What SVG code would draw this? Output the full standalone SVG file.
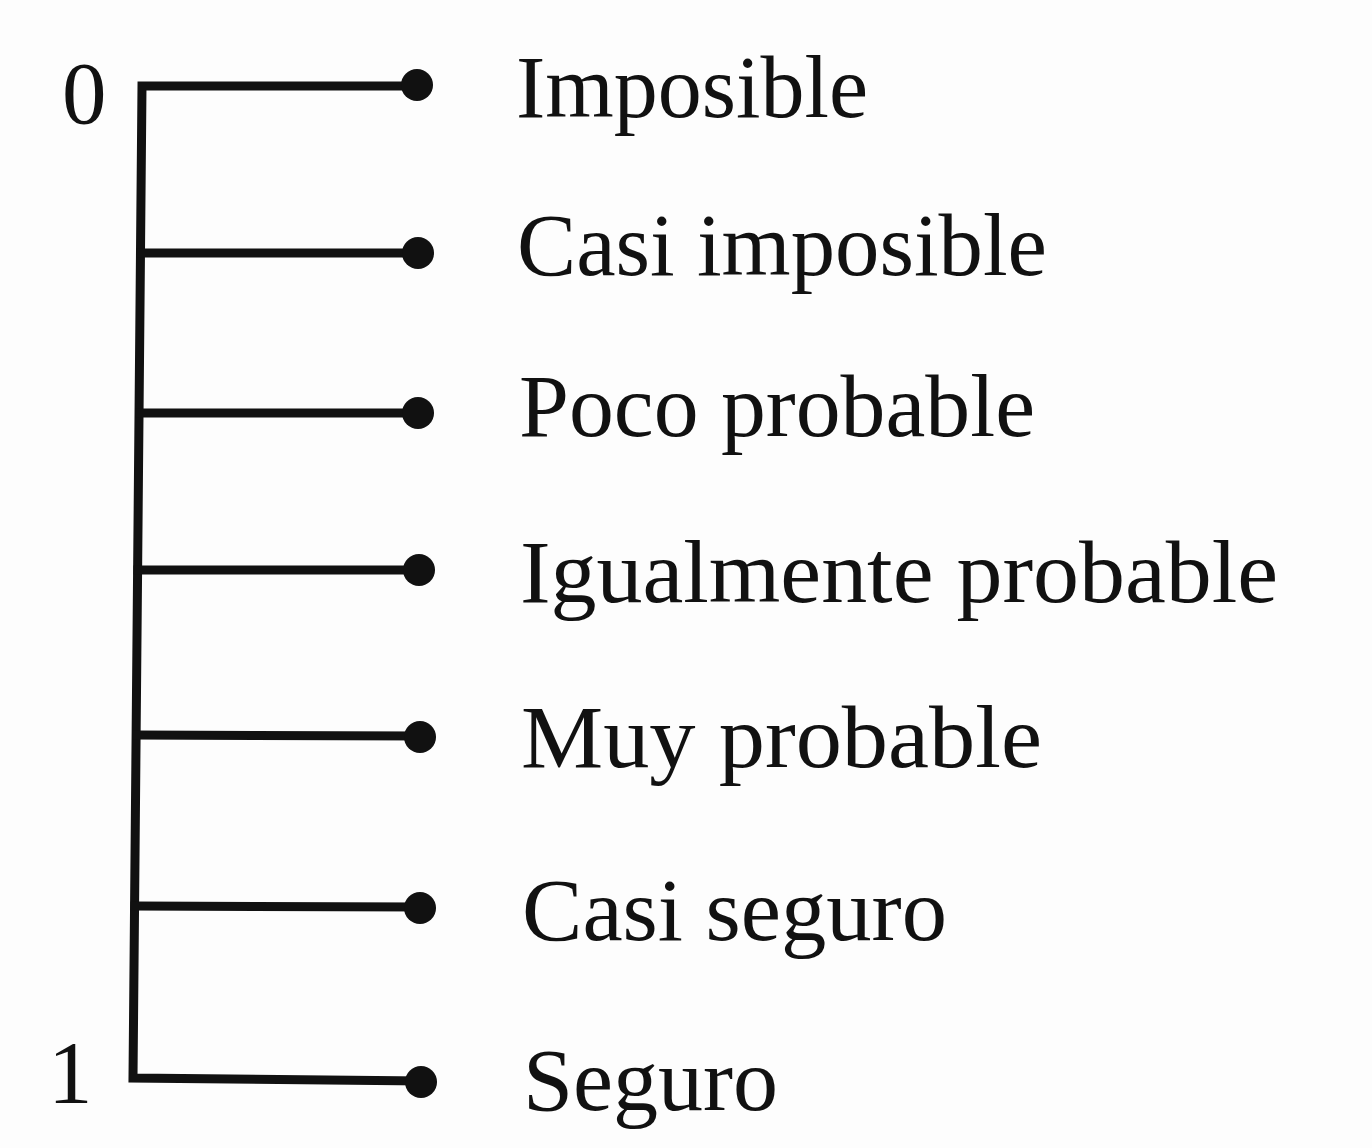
<svg xmlns="http://www.w3.org/2000/svg" width="1372" height="1148" viewBox="0 0 1372 1148">
<style>
.ln{stroke:#111;stroke-width:9;fill:none;stroke-linecap:square;stroke-linejoin:miter}
.dot{fill:#111}
.t{font-family:"Liberation Serif","Times New Roman",serif;font-size:89px;fill:#111}
</style>
<rect width="1372" height="1148" fill="#fdfdfd"/>
<g id="connectors">
<path class="ln" d="M416 86 L142 86 L133 1078 L420 1081"/>
<line class="ln" x1="141" y1="253" x2="417" y2="253"/>
<line class="ln" x1="140" y1="413" x2="418" y2="413"/>
<line class="ln" x1="138" y1="570" x2="419" y2="570"/>
<line class="ln" x1="137" y1="735" x2="420" y2="736"/>
<line class="ln" x1="135" y1="906" x2="420" y2="907"/>
</g>
<g id="axis-labels">
<text class="t" x="62" y="123">0</text>
<text class="t" x="48" y="1102">1</text>
</g>
<g id="n1"><circle class="dot" cx="417" cy="85" r="16"/><text class="t" x="516" y="117" textLength="352" lengthAdjust="spacingAndGlyphs">Imposible</text></g>
<g id="n2"><circle class="dot" cx="418" cy="253" r="16"/><text class="t" x="517" y="275" textLength="530" lengthAdjust="spacingAndGlyphs">Casi imposible</text></g>
<g id="n3"><circle class="dot" cx="418" cy="413" r="16"/><text class="t" x="519" y="436" textLength="516" lengthAdjust="spacingAndGlyphs">Poco probable</text></g>
<g id="n4"><circle class="dot" cx="419" cy="570" r="16"/><text class="t" x="520" y="602" textLength="758" lengthAdjust="spacingAndGlyphs">Igualmente probable</text></g>
<g id="n5"><circle class="dot" cx="420" cy="737" r="16"/><text class="t" x="521" y="767" textLength="521" lengthAdjust="spacingAndGlyphs">Muy probable</text></g>
<g id="n6"><circle class="dot" cx="420" cy="908" r="16"/><text class="t" x="522" y="940" textLength="425" lengthAdjust="spacingAndGlyphs">Casi seguro</text></g>
<g id="n7"><circle class="dot" cx="421" cy="1082" r="16"/><text class="t" x="523" y="1110" textLength="255" lengthAdjust="spacingAndGlyphs">Seguro</text></g>
</svg>
